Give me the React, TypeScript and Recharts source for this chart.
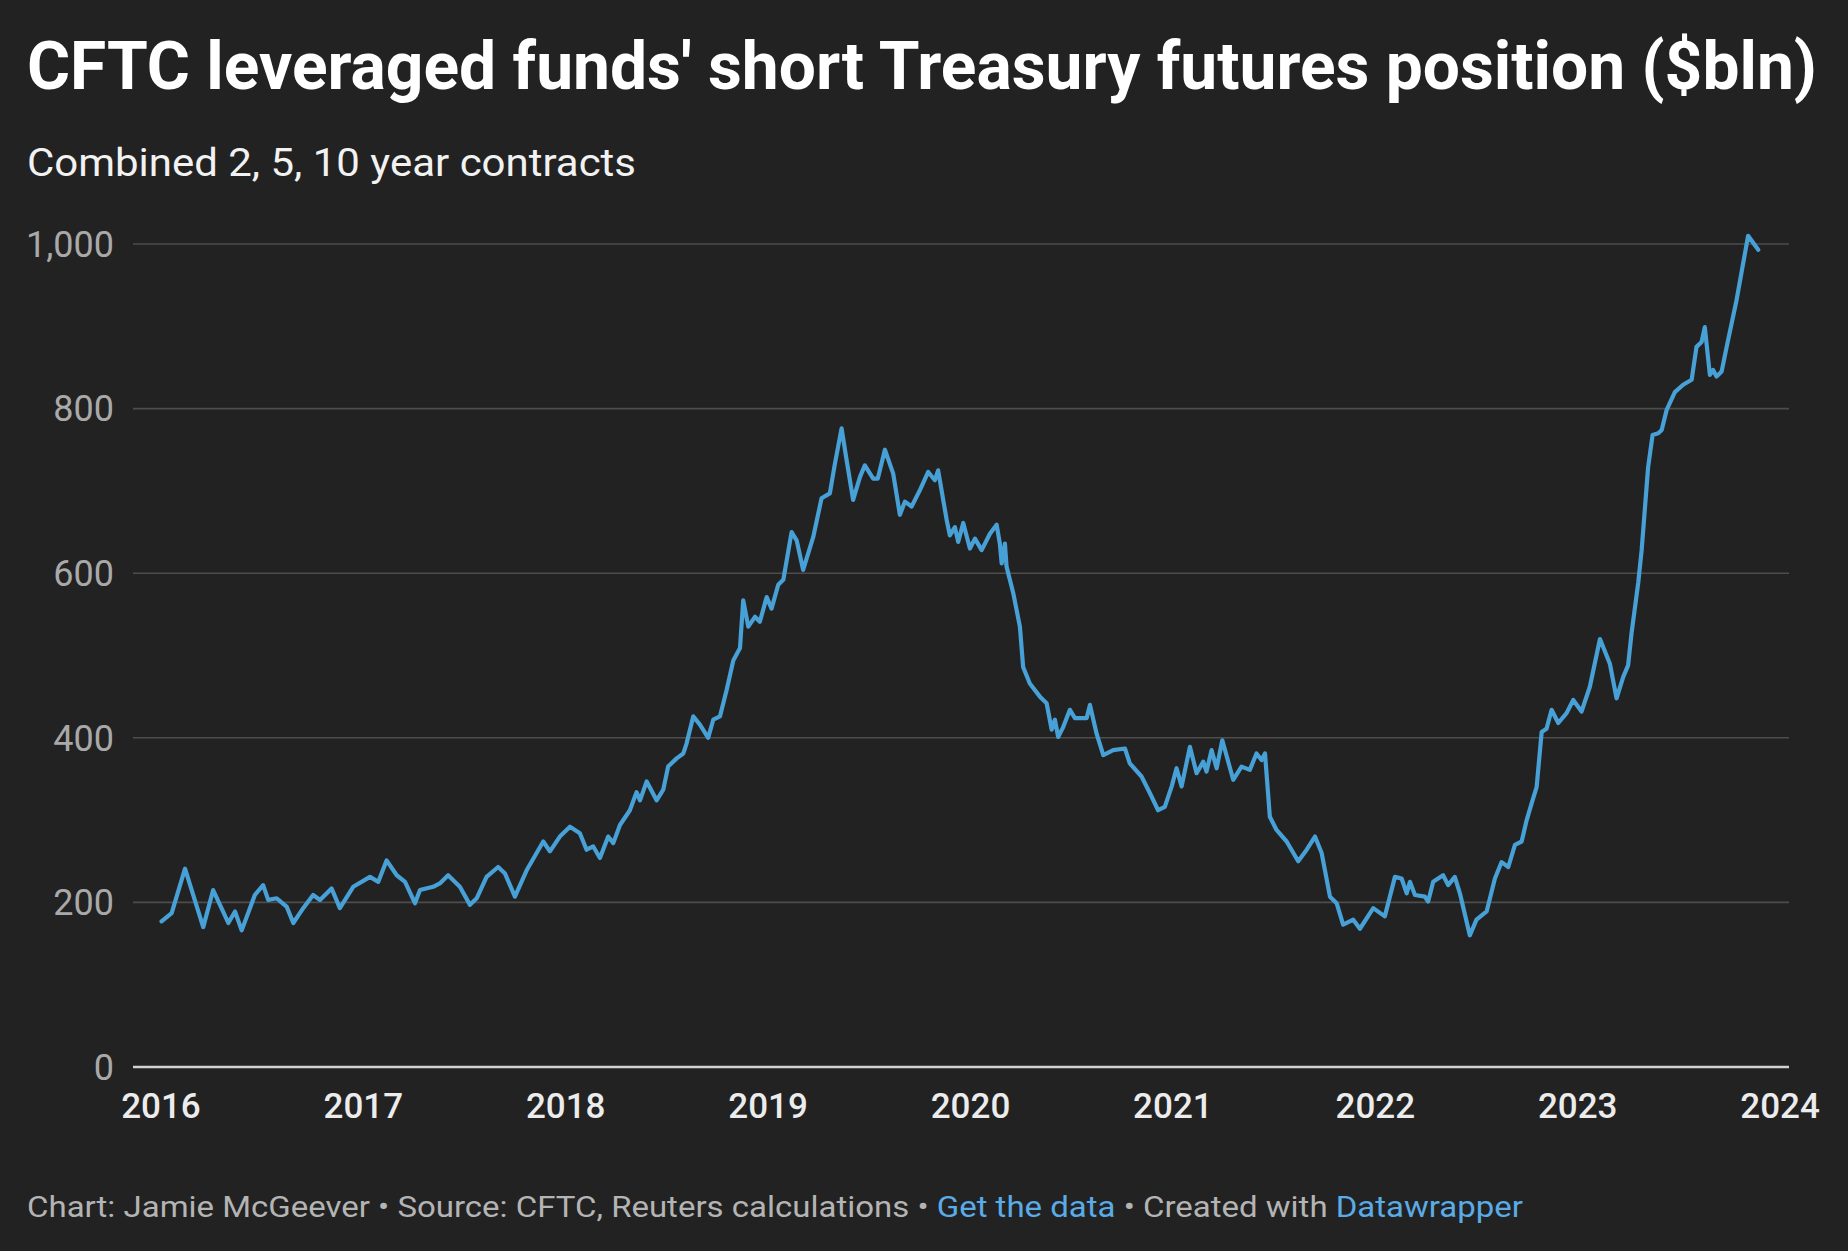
import React from "react";
import { LineChart, Line, XAxis, YAxis, CartesianGrid, ReferenceLine } from "recharts";

// Dates as decimal years (weekly CFTC reports, sampled), values in $bln
const reportDates = [
  2016.003, 2016.053, 2016.119, 2016.209, 2016.258, 2016.333, 2016.366, 2016.399, 2016.464, 2016.505,
  2016.530, 2016.572, 2016.621, 2016.654, 2016.703, 2016.752, 2016.786, 2016.843, 2016.884, 2016.950,
  2017.033, 2017.074, 2017.115, 2017.165, 2017.206, 2017.255, 2017.280, 2017.345, 2017.378, 2017.419,
  2017.477, 2017.527, 2017.560, 2017.609, 2017.666, 2017.700, 2017.749, 2017.807, 2017.889, 2017.922,
  2017.971, 2018.021, 2018.070, 2018.103, 2018.136, 2018.169, 2018.210, 2018.235, 2018.268, 2018.317,
  2018.350, 2018.367, 2018.400, 2018.449, 2018.482, 2018.506, 2018.548, 2018.581, 2018.597, 2018.630,
  2018.663, 2018.704, 2018.729, 2018.762, 2018.795, 2018.828, 2018.861, 2018.877, 2018.902, 2018.935,
  2018.959, 2018.993, 2019.017, 2019.050, 2019.075, 2019.116, 2019.141, 2019.173, 2019.223, 2019.264,
  2019.305, 2019.330, 2019.363, 2019.388, 2019.420, 2019.454, 2019.478, 2019.519, 2019.542, 2019.577,
  2019.618, 2019.651, 2019.676, 2019.709, 2019.750, 2019.791, 2019.824, 2019.840, 2019.882, 2019.898,
  2019.923, 2019.939, 2019.964, 2019.997, 2020.022, 2020.055, 2020.096, 2020.129, 2020.145, 2020.154,
  2020.170, 2020.178, 2020.211, 2020.244, 2020.260, 2020.293, 2020.343, 2020.376, 2020.401, 2020.417,
  2020.433, 2020.458, 2020.491, 2020.516, 2020.574, 2020.590, 2020.623, 2020.656, 2020.705, 2020.763,
  2020.787, 2020.845, 2020.886, 2020.927, 2020.960, 2020.994, 2021.018, 2021.043, 2021.084, 2021.117,
  2021.150, 2021.166, 2021.191, 2021.216, 2021.244, 2021.298, 2021.339, 2021.380, 2021.413, 2021.438,
  2021.455, 2021.479, 2021.512, 2021.562, 2021.619, 2021.661, 2021.702, 2021.735, 2021.776, 2021.809,
  2021.841, 2021.891, 2021.924, 2021.990, 2022.047, 2022.097, 2022.130, 2022.155, 2022.171, 2022.196,
  2022.245, 2022.261, 2022.286, 2022.335, 2022.360, 2022.393, 2022.418, 2022.467, 2022.500, 2022.550,
  2022.591, 2022.624, 2022.657, 2022.690, 2022.723, 2022.748, 2022.772, 2022.797, 2022.822, 2022.846,
  2022.871, 2022.904, 2022.945, 2022.978, 2023.019, 2023.060, 2023.110, 2023.159, 2023.192, 2023.225,
  2023.249, 2023.266, 2023.299, 2023.316, 2023.348, 2023.370, 2023.398, 2023.415, 2023.439, 2023.480,
  2023.521, 2023.563, 2023.587, 2023.612, 2023.628, 2023.653, 2023.669, 2023.686, 2023.711, 2023.736,
  2023.785, 2023.842, 2023.892,
];

const shortPositionBln = [
  177, 187, 241, 170, 215, 175, 189, 166, 209, 221,
  203, 205, 195, 175, 193, 209, 203, 217, 193, 219,
  231, 225, 251, 233, 225, 199, 215, 219, 223, 233,
  219, 197, 205, 231, 243, 235, 207, 239, 274, 262,
  280, 292, 284, 264, 268, 254, 280, 272, 294, 312,
  334, 324, 347, 324, 337, 365, 375, 381, 393, 426,
  416, 400, 422, 426, 458, 494, 509, 567, 535, 547,
  541, 571, 557, 586, 592, 650, 640, 604, 644, 691,
  697, 733, 776, 737, 689, 717, 731, 715, 715, 750,
  721, 671, 687, 681, 701, 723, 713, 725, 665, 646,
  656, 638, 661, 630, 642, 628, 648, 659, 636, 612,
  636, 608, 576, 535, 486, 466, 450, 442, 410, 422,
  401, 413, 434, 424, 424, 440, 405, 379, 385, 387,
  369, 353, 333, 312, 316, 341, 363, 341, 389, 357,
  371, 359, 385, 363, 397, 349, 365, 361, 381, 373,
  381, 304, 288, 274, 250, 264, 280, 260, 207, 199,
  173, 179, 168, 193, 183, 231, 229, 211, 225, 209,
  207, 201, 225, 233, 221, 231, 211, 160, 179, 189,
  229, 249, 243, 270, 274, 300, 320, 340, 407, 411,
  434, 418, 430, 446, 432, 462, 520, 490, 448, 474,
  488, 527, 588, 628, 729, 768, 770, 774, 798, 820,
  829, 835, 875, 881, 899, 841, 847, 839, 845, 875,
  932, 1010, 993,
];

const yearTicks = [2016, 2017, 2018, 2019, 2020, 2021, 2022, 2023, 2024];
const valueTicks = [0, 200, 400, 600, 800, 1000];

const titleText = "CFTC leveraged funds' short Treasury futures position ($bln)";
const subtitleText = "Combined 2, 5, 10 year contracts";

const chartData = reportDates.map((t, i) => ({ t, v: shortPositionBln[i] }));

const FONT = "Roboto, 'Noto Sans', 'DejaVu Sans', sans-serif";
const BG = "#222222";

export default function App() {
  return (
    <div style={{ position: "absolute", left: 0, top: 0, width: 1848, height: 1251, background: BG, overflow: "hidden" }}>
      <style>{"body{margin:0;background:#222222;}"}</style>
      <div style={{ position: "absolute", left: 0, top: 0 }}>
        <LineChart
          width={1848}
          height={1251}
          data={chartData}
          margin={{ top: 161.7, right: 59, bottom: 124, left: 33 }}
        >
          <CartesianGrid
            vertical={false}
            horizontalValues={valueTicks}
            stroke="#4d4d4d"
            strokeWidth={1.6}
          />
          <XAxis
            dataKey="t"
            type="number"
            domain={[2015.862, 2024.044]}
            ticks={yearTicks}
            tickFormatter={(v) => String(v)}
            axisLine={false}
            tickLine={false}
            tickSize={0}
            tickMargin={26}
            height={60}
            interval={0}
            tick={{ fill: "#ececec", fontSize: 35, fontFamily: FONT, fontWeight: 500 }}
          />
          <YAxis
            type="number"
            domain={[0, 1100]}
            ticks={valueTicks}
            tickFormatter={(v) => Number(v).toLocaleString("en-US")}
            axisLine={false}
            tickLine={false}
            tickSize={0}
            tickMargin={19}
            width={100}
            interval={0}
            tick={{ fill: "#a9a9a9", fontSize: 36, fontFamily: FONT, fontWeight: 400 }}
          />
          <ReferenceLine y={0} stroke="#d2d2d2" strokeWidth={2.6} />
          <Line
            type="linear"
            dataKey="v"
            stroke="#47a0d6"
            strokeWidth={4.2}
            dot={false}
            activeDot={false}
            isAnimationActive={false}
            strokeLinejoin="round"
            strokeLinecap="round"
          />
        </LineChart>
      </div>
      <svg
        width={1848}
        height={1251}
        style={{ position: "absolute", left: 0, top: 0, pointerEvents: "none" }}
      >
        <text
          x={27}
          y={89}
          fill="#ffffff"
          fontFamily={FONT}
          fontWeight={700}
          fontSize={67}
          textLength={1790}
          lengthAdjust="spacingAndGlyphs"
        >
          {titleText}
        </text>
        <text
          x={27}
          y={176}
          fill="#f2f2f2"
          fontFamily={FONT}
          fontWeight={400}
          fontSize={39}
          textLength={609}
          lengthAdjust="spacingAndGlyphs"
        >
          {subtitleText}
        </text>
        <text
          x={27}
          y={1217}
          fill="#b4b4b4"
          fontFamily={FONT}
          fontWeight={400}
          fontSize={30}
          textLength={1496}
          lengthAdjust="spacingAndGlyphs"
        >
          <tspan>Chart: Jamie McGeever • Source: CFTC, Reuters calculations • </tspan>
          <tspan fill="#5aabe6">Get the data</tspan>
          <tspan> • Created with </tspan>
          <tspan fill="#5aabe6">Datawrapper</tspan>
        </text>
      </svg>
    </div>
  );
}
